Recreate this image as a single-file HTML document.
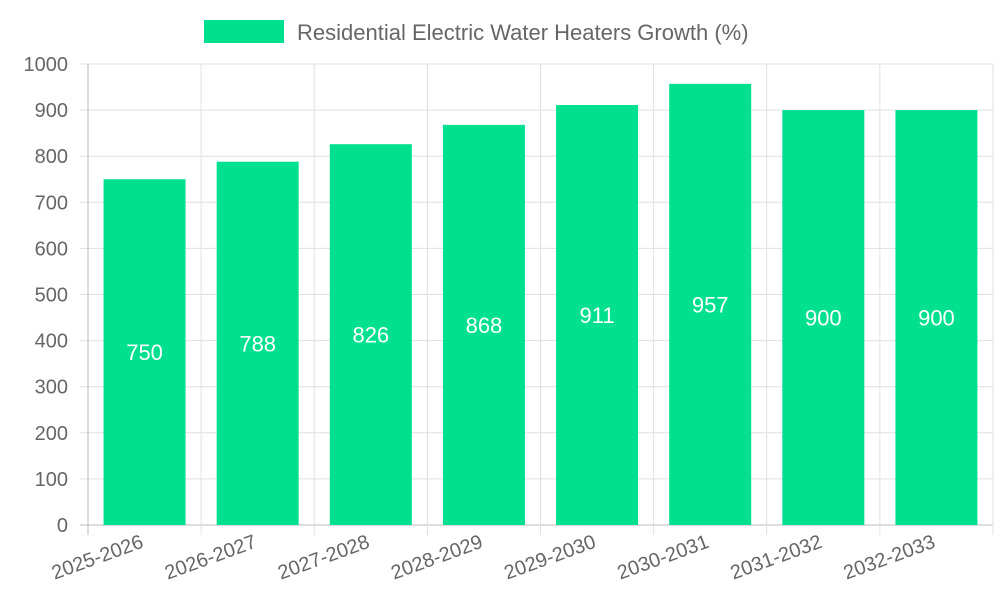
<!DOCTYPE html>
<html><head><meta charset="utf-8"><style>
body{margin:0;background:#fff;}
svg{display:block;font-family:"Liberation Sans",sans-serif;}
</style></head><body>
<svg id="chart" width="1000" height="600">
<g id="legend">
<rect x="204" y="20" width="80" height="23" fill="#00e08f"></rect>
<text x="297" y="40" font-size="22" fill="#666">Residential Electric Water Heaters Growth (%)</text>
</g>
<g id="grid"></g><g id="bars"></g><g id="labels"></g>
</svg>
<script>
const categories=["2025-2026","2026-2027","2027-2028","2028-2029","2029-2030","2030-2031","2031-2032","2032-2033"];
const values=[750,788,826,868,911,957,900,900];
const yTicks=[0,100,200,300,400,500,600,700,800,900,1000];
const L=88,R=993,T=64,B=525,yMax=1000;
const ns="http://www.w3.org/2000/svg";
const cw=(R-L)/categories.length;
const y=v=>B-(v/yMax)*(B-T);
const x=i=>L+i*cw;
function mk(t,a,p){const e=document.createElementNS(ns,t);for(const k in a)e.setAttribute(k,a[k]);p.appendChild(e);return e;}
const g=document.getElementById('grid'),bg=document.getElementById('bars'),lg=document.getElementById('labels');
yTicks.forEach(v=>{
 const l=mk('line',{x1:L-8,x2:R,y1:y(v),y2:y(v),stroke:v===0?'#bbb':'#e0e0e0','stroke-width':1},g);
 
 
 const t=mk('text',{x:L-20,y:y(v)+7,'text-anchor':'end','font-size':20,fill:'#666'},g);
 t.textContent=v;
 
 
});
for(let i=0;i<=categories.length;i++){
 const l=mk('line',{x1:x(i),x2:x(i),y1:T,y2:B+10,stroke:i===0?'#bbb':'#e0e0e0','stroke-width':1},g);
 
 
}
categories.forEach((c,i)=>{
 const bw=cw*0.725,bx=x(i)+(cw-bw)/2;
 const r=mk('rect',{x:bx,y:y(values[i]),width:bw,height:B-y(values[i]),fill:'#00e08f'},bg);
 
 
 const vt=mk('text',{x:bx+bw/2,y:(y(values[i])+B)/2+8,'text-anchor':'middle','font-size':22,fill:'#fff'},lg);
 vt.textContent=values[i];
 
 
 const cx=x(i)+cw/2;
 const xt=mk('text',{x:cx,y:B+22,'text-anchor':'end','font-size':20,fill:'#666',transform:`rotate(-20 ${cx} ${B+22})`},lg);
 xt.textContent=c;
 
 
});
</script>
</body></html>
